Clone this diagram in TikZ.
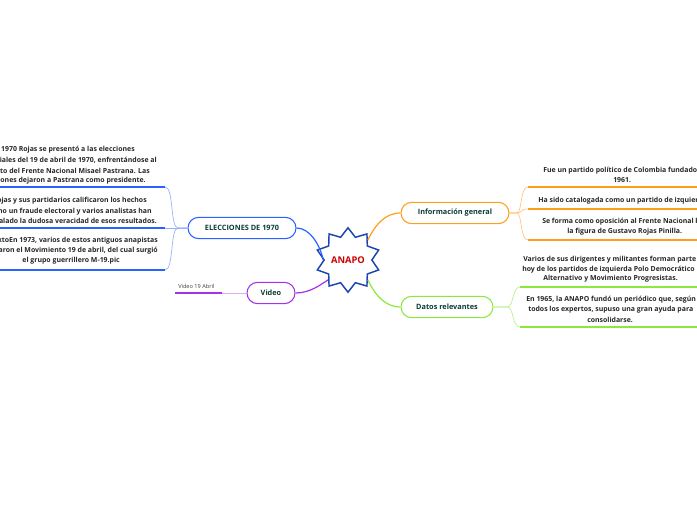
\documentclass[tikz,border=0pt]{standalone}
\usepackage{fontspec}
\setmainfont{Open Sans}
\usetikzlibrary{shapes.geometric}
\definecolor{cblue}{HTML}{2962FF}
\definecolor{corange}{HTML}{FF9E1A}
\definecolor{cgreen}{HTML}{8BE83C}
\definecolor{cpurple}{HTML}{A531E8}
\definecolor{ctxt}{HTML}{0B3D36}
\begin{document}
\begin{tikzpicture}[x=0.75pt,y=-0.75pt,
  mainbox/.style={draw,line width=0.8pt,rounded corners=8pt,fill=white,minimum height=16pt,font=\fontsize{5.5}{6}\selectfont\bfseries,text=ctxt,inner sep=2pt},
  leaf/.style={font=\fontsize{5.2}{6}\selectfont\bfseries,text=black!85,inner sep=0pt},
  conn/.style={line width=0.9pt},
  thin/.style={line width=0.5pt}]
\useasboundingbox (0,0) rectangle (697,520);
% central
\node[star,star points=10,star point ratio=1.35,draw=cblue!70!black,line width=1.1pt,fill=white,minimum size=36pt,inner sep=0pt,font=\fontsize{7}{8}\selectfont\bfseries,text=red!80!black] (c) at (348,260) {ANAPO};
\node[mainbox,draw=corange,minimum width=81pt] (ig) at (455,213) {Información general};
\node[mainbox,draw=cgreen,minimum width=69pt] (dr) at (447,307) {Datos relevantes};
\node[mainbox,draw=cblue,minimum width=81pt] (el) at (242,228) {ELECCIONES DE 1970};
\node[mainbox,draw=cpurple,minimum width=36pt] (vi) at (271,293) {Video};
\draw[conn,corange] (c.north east) .. controls (375,225) and (385,213) .. (ig.west);
\draw[conn,cgreen] (c.south east) .. controls (375,295) and (385,307) .. (dr.west);
\draw[conn,cblue] (c.west) .. controls (320,245) and (310,228) .. (el.east);
\draw[conn,cpurple] (c.south west) .. controls (320,285) and (310,293) .. (vi.east);
% orange leaves
\coordinate (o1) at (528,187); \coordinate (o1e) at (697,187);
\coordinate (o2) at (528,209); \coordinate (o2e) at (697,209);
\coordinate (o3) at (528,240); \coordinate (o3e) at (697,240);
\draw[thin,corange!60] (ig.east) -- (517,213) .. controls (522,213) and (520,187) .. (o1);
\draw[thin,corange!60] (ig.east) -- (517,213) .. controls (522,213) and (520,209) .. (o2);
\draw[thin,corange!60] (ig.east) -- (517,213) .. controls (522,213) and (520,240) .. (o3);
\draw[conn,corange] (o1) -- (o1e); \draw[conn,corange] (o2) -- (o2e); \draw[conn,corange] (o3) -- (o3e);
\node[leaf,anchor=west] (t1) at (543,171) {Fue un partido político de Colombia fundado en};
\node[leaf,anchor=west] (t1b) at (613,180) {1961.};
\node[leaf,anchor=west] (t2) at (538,201) {Ha sido catalogada como un partido de izquierda.};
\node[leaf,anchor=west] (t3) at (542,222) {Se forma como oposición al Frente Nacional bajo};
\node[leaf,anchor=west] (t3b) at (567,232) {la figura de Gustavo Rojas Pinilla.};
% green leaves
\coordinate (g1) at (520,287); \coordinate (g1e) at (697,287);
\coordinate (g2) at (520,327); \coordinate (g2e) at (697,327);
\draw[thin,cgreen!60] (dr.east) -- (507,307) .. controls (514,307) and (512,287) .. (g1);
\draw[thin,cgreen!60] (dr.east) -- (507,307) .. controls (514,307) and (512,327) .. (g2);
\draw[conn,cgreen] (g1) -- (g1e); \draw[conn,cgreen] (g2) -- (g2e);
\node[leaf,anchor=west] (t4) at (523,260) {Varios de sus dirigentes y militantes forman parte};
\node[leaf,anchor=west] (t4b) at (522,270) {hoy de los partidos de izquierda Polo Democrático};
\node[leaf,anchor=west] (t4c) at (543,279) {Alternativo y Movimiento Progresistas.};
\node[leaf,anchor=west] (t5) at (526,300) {En 1965, la ANAPO fundó un periódico que, según};
\node[leaf,anchor=west] (t5b) at (528,310) {todos los expertos, supuso una gran ayuda para};
\node[leaf,anchor=west] (t5c) at (587,320) {consolidarse.};
% blue leaves
\coordinate (b1) at (165,187); \coordinate (b1e) at (0,187);
\coordinate (b2) at (165,228); \coordinate (b2e) at (0,228);
\coordinate (b3) at (165,270); \coordinate (b3e) at (0,270);
\draw[thin,cblue!50] (el.west) -- (178,228) .. controls (170,228) and (174,187) .. (b1);
\draw[thin,cblue!50] (el.west) -- (b2);
\draw[thin,cblue!50] (el.west) -- (178,228) .. controls (170,228) and (174,270) .. (b3);
\draw[conn,cblue] (b1) -- (b1e); \draw[conn,cblue] (b2) -- (b2e); \draw[conn,cblue] (b3) -- (b3e);
\node[leaf,anchor=east] (l1) at (135,150) {En 1970 Rojas se presentó a las elecciones};
\node[leaf,anchor=east] (l1b) at (157,161) {presidenciales del 19 de abril de 1970, enfrentándose al};
\node[leaf,anchor=east] (l1c) at (150,171) {candidato del Frente Nacional Misael Pastrana. Las};
\node[leaf,anchor=east] (l1d) at (146,181) {elecciones dejaron a Pastrana como presidente.};
\node[leaf,anchor=east] (l2) at (147,201) {Rojas y sus partidarios calificaron los hechos};
\node[leaf,anchor=east] (l2b) at (152,212) {como un fraude electoral y varios analistas han};
\node[leaf,anchor=east] (l2c) at (157,221) {señalado la dudosa veracidad de esos resultados.};
\node[leaf,anchor=east] (l3) at (158,241) {textoEn 1973, varios de estos antiguos anapistas};
\node[leaf,anchor=east] (l3b) at (158,251) {fundaron el Movimiento 19 de abril,  del cual surgió};
\node[leaf,anchor=east] (l3c) at (120,261) {el grupo guerrillero M-19.pic};
% video leaf
\coordinate (v1) at (222,293); \coordinate (v1e) at (175,293);
\draw[thin,cpurple!40] (vi.west) -- (v1);
\draw[conn,cpurple] (v1) -- (v1e);
\node[font=\fontsize{4.2}{5}\selectfont,text=black!75,inner sep=0pt,anchor=west] (vt) at (178,286) {Video 19 Abril};
\end{tikzpicture}
\end{document}
